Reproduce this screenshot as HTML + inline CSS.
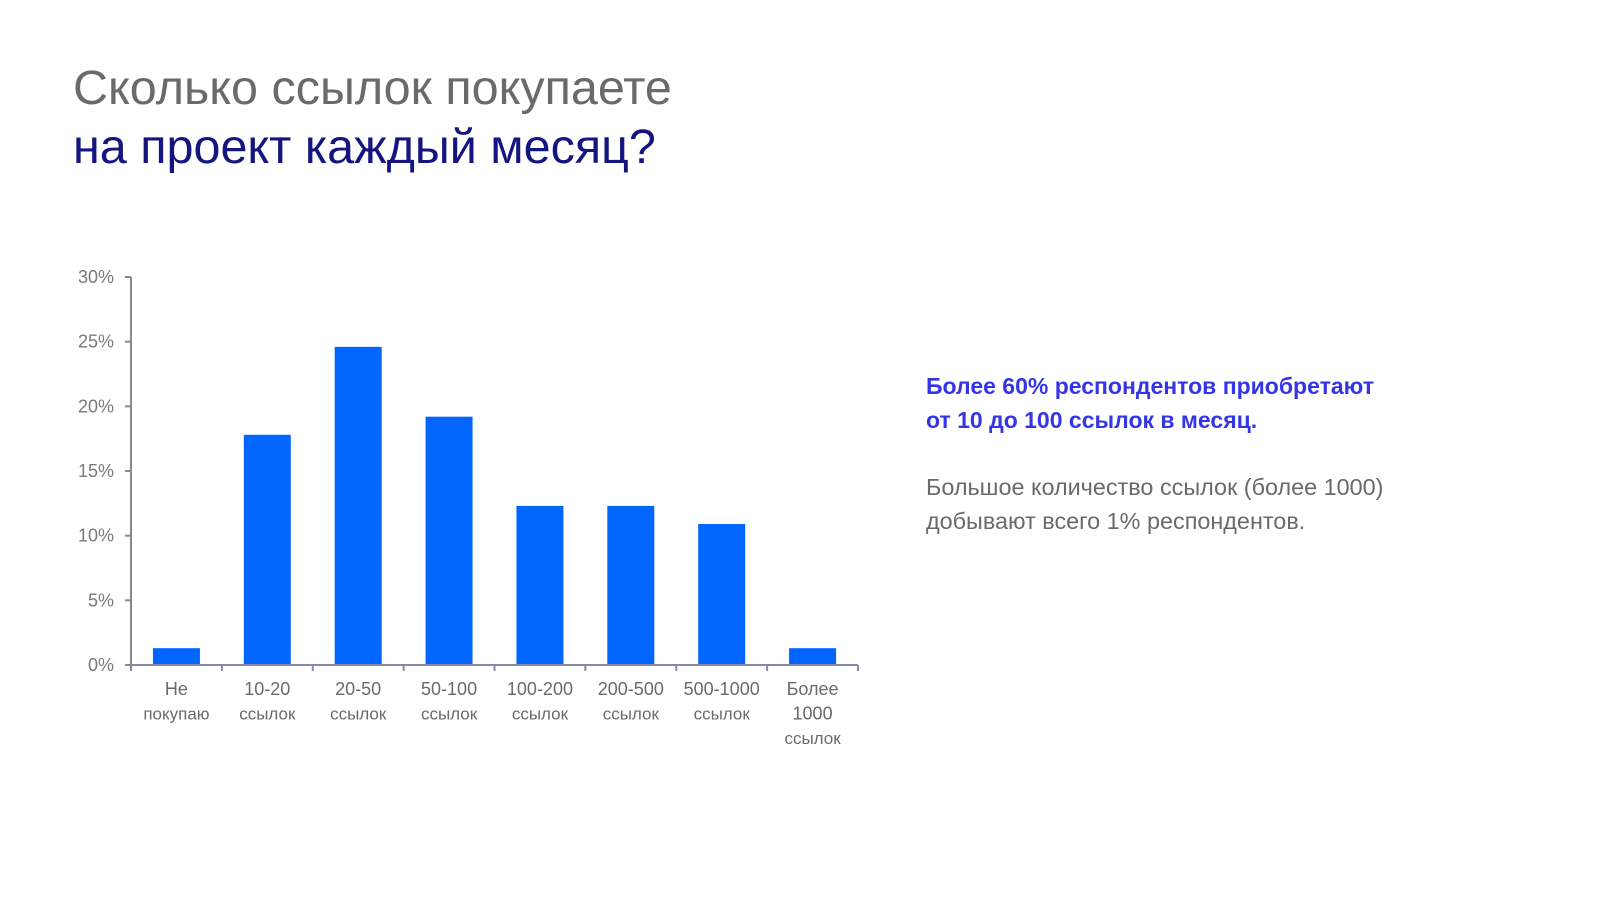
<!DOCTYPE html>
<html><head><meta charset="utf-8">
<style>
body{margin:0;width:1600px;height:900px;background:#fff;font-family:"Liberation Sans","Noto Sans CJK SC",sans-serif;overflow:hidden;position:relative}
.t{position:absolute;left:73px;font-size:48.5px;white-space:nowrap}
.r{position:absolute;left:926px;font-size:23px;line-height:34px;white-space:nowrap}
</style></head><body>
<div class="t" style="top:60px;color:#6a6a6a">Сколько ссылок покупаете</div>
<div class="t" style="top:119px;color:#15157f">на проект каждый месяц?</div>
<div class="r" style="top:369px;color:#3535e8;font-weight:bold">Более 60% респондентов приобретают<br>от 10 до 100 ссылок в месяц.</div>
<div class="r" style="top:470px;color:#6a6a6a;font-size:23.4px">Большое количество ссылок (более 1000)<br>добывают всего 1% респондентов.</div>
<svg id="c" width="1600" height="900" style="position:absolute;left:0;top:0"></svg>
<script>
const categories=[["Не","покупаю"],["10-20","ссылок"],["20-50","ссылок"],["50-100","ссылок"],["100-200","ссылок"],["200-500","ссылок"],["500-1000","ссылок"],["Более","1000","ссылок"]];
const values=[1.3,17.8,24.6,19.2,12.3,12.3,10.9,1.3];
const ticks=[0,5,10,15,20,25,30];
const ns="http://www.w3.org/2000/svg",svg=document.getElementById('c');
const x0=131,x1=858,y0=665,yTop=277,ymax=30;
const bw=(x1-x0)/categories.length;
const y=v=>y0-(v/ymax)*(y0-yTop);
function mk(t,a,txt){const e=document.createElementNS(ns,t);for(const k in a)e.setAttribute(k,a[k]);if(txt!=null)e.textContent=txt;svg.appendChild(e);return e;}
values.forEach((v,i)=>{
 const b=mk('rect',{x:x0+i*bw+(bw-47)/2,y:y(v),width:47,height:y0-y(v),fill:'#0066ff'});
 
 
});
const ax=mk('line',{x1:x0,y1:yTop,x2:x0,y2:y0,stroke:'#8a8a8a','stroke-width':2});


const xa=mk('line',{x1:x0-5,y1:y0,x2:x1,y2:y0,stroke:'#8888aa','stroke-width':2});


ticks.forEach(t=>{
 mk('line',{x1:x0-6,y1:y(t),x2:x0,y2:y(t),stroke:'#8a8a8a','stroke-width':2});
 const l=mk('text',{x:x0-17,y:y(t)+6,'text-anchor':'end','font-size':18,fill:'#7a7a7a'},t+'%');
 
 
});
for(let i=0;i<=categories.length;i++)mk('line',{x1:x0+i*bw,y1:y0,x2:x0+i*bw,y2:y0+6,stroke:'#8888aa','stroke-width':2});
categories.forEach((c,i)=>{
 c.forEach((s,j)=>{
  const l=mk('text',{x:x0+(i+0.5)*bw,y:y0+30+j*24.5,'text-anchor':'middle','font-size':(s=='ссылок'||s=='покупаю')?17:18,fill:'#6a6a6a'},s);
  
  
 });
});
</script>
</body></html>
